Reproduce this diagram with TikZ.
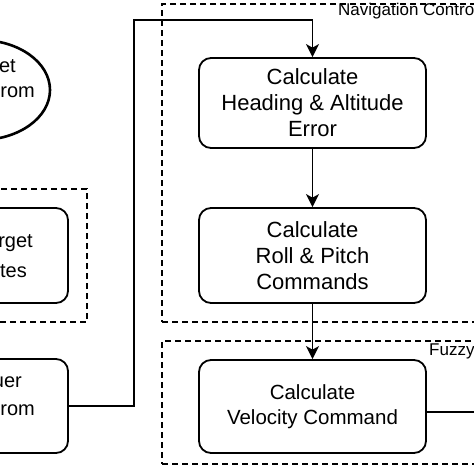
\documentclass[tikz,border=0pt]{standalone}
\usepackage{fontspec}
\setmainfont{Liberation Sans}
\usetikzlibrary{shapes.geometric,arrows.meta,positioning,calc}

\begin{document}
\begin{tikzpicture}[
    x=1pt, y=-1pt,
    proc/.style={draw, line width=1.8pt, rounded corners=12pt, align=center,
                 minimum width=227pt, inner sep=0pt, font=\fontsize{22}{26}\selectfont},
    grp/.style={draw, dash pattern=on 6pt off 4pt, line width=1.5pt,
                inner sep=0pt, rectangle},
    arr/.style={-{Stealth[length=13pt, width=13pt, inset=3.5pt]}, line width=1.6pt},
    wire/.style={line width=1.6pt},
    lbl/.style={font=\fontsize{17}{19}\selectfont, inner sep=0pt},
    frag/.style={font=\fontsize{20}{24}\selectfont, inner sep=0pt, anchor=base east}
]
    \useasboundingbox (0,0) rectangle (474,474);
    \clip (0,0) rectangle (474,474);

    % group frames
    \node[grp, minimum width=358pt, minimum height=318pt] (navgrp)  at (341,163) {};
    \node[grp, minimum width=358pt, minimum height=123pt] (fuzzgrp) at (341,402.5) {};
    \node[grp, minimum width=287pt, minimum height=133pt] (tgtgrp)  at (-56.5,255.5) {};
    \node[lbl, anchor=west] (navlbl)  at (338,11)  {Navigation Control};
    \node[lbl, anchor=west] (fuzzlbl) at (429,351) {Fuzzy};

    % left column (cut by the frame)
    \node[draw, ellipse, line width=2.6pt, minimum width=140pt, minimum height=100pt] (wpt) at (-20,90) {};
    \node[frag] (wpta) at (16,72) {et};
    \node[frag] (wptb) at (35,97) {rom};
    \node[proc, minimum width=218pt, minimum height=95pt] (tgt) at (-41,255.5) {};
    \node[frag] (tgta) at (33,247) {rget};
    \node[frag] (tgtb) at (27,277) {tes};
    \node[proc, minimum width=218pt, minimum height=94pt] (pur) at (-41,406) {};
    \node[frag] (pura) at (22,387) {uer};
    \node[frag] (purb) at (35,415) {rom};

    % controller chain
    \node[proc, minimum height=90pt] (hdg) at (312.5,103)   {Calculate\\Heading \& Altitude\\Error};
    \node[proc, minimum height=95pt] (cmd) at (312.5,255.5) {Calculate\\Roll \& Pitch\\Commands};
    \node[proc, minimum height=93pt, font=\fontsize{20.5}{25}\selectfont]
        (vel) at (312.5,406.5) {Calculate\\Velocity Command};

    \coordinate (bend) at (134,20);
    \coordinate (velout) at (490,412);

    \draw[arr] (pur.east) -| (bend) -| (hdg.north);
    \draw[arr] (hdg) -- (cmd);
    \draw[arr] (cmd) -- (vel);
    \draw[wire] (vel.east |- velout) -- (velout);
\end{tikzpicture}
\end{document}
